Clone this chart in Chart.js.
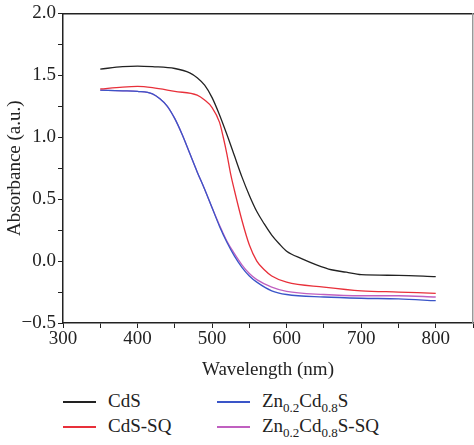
<!DOCTYPE html>
<html><head><meta charset="utf-8">
<script src="https://cdn.jsdelivr.net/npm/chart.js@4"></script>
<style>
body{margin:0;background:#fff;font-family:"Liberation Serif",serif;}
#w{position:relative;width:474px;height:445px;}
canvas{position:absolute;left:0;top:0;}
.lg{position:absolute;font-size:19px;color:#222;line-height:19px;}
.ln{position:absolute;height:1.5px;width:33px;}
</style></head><body>
<div id="w"><canvas id="c" width="474" height="385"></canvas>
<div class="ln" style="left:63px;top:401px;background:#222"></div><div class="lg" style="left:108px;top:391px">CdS</div>
<div class="ln" style="left:63px;top:426px;background:#e8303a"></div><div class="lg" style="left:108px;top:416px">CdS-SQ</div>
<div class="ln" style="left:217px;top:401px;background:#3a55c8"></div><div class="lg" style="left:262px;top:391px">Zn<sub style="font-size:13px">0.2</sub>Cd<sub style="font-size:13px">0.8</sub>S</div>
<div class="ln" style="left:217px;top:426px;background:#c060c0"></div><div class="lg" style="left:262px;top:416px">Zn<sub style="font-size:13px">0.2</sub>Cd<sub style="font-size:13px">0.8</sub>S-SQ</div>
</div>
<script>
const cdsX=[350,380,400,420,450,470,480,490,500,510,520,530,540,550,560,570,580,590,600,620,640,660,680,700,750,800];
const cdsY=[1.55,1.57,1.575,1.57,1.555,1.52,1.48,1.42,1.32,1.18,1.02,0.85,0.68,0.53,0.40,0.30,0.21,0.14,0.08,0.02,-0.03,-0.07,-0.09,-0.11,-0.115,-0.125];
const sqX=[350,380,400,420,450,480,490,500,510,515,520,525,530,540,550,560,570,580,600,650,700,750,800];
const sqY=[1.39,1.405,1.41,1.40,1.37,1.34,1.30,1.24,1.12,1.0,0.86,0.70,0.57,0.33,0.13,0.0,-0.07,-0.12,-0.17,-0.21,-0.24,-0.25,-0.26];
const znX=[350,380,400,420,430,440,450,460,470,480,490,500,510,520,530,540,550,560,580,600,650,700,750,800];
const znY=[1.38,1.375,1.37,1.35,1.31,1.25,1.15,1.02,0.87,0.72,0.58,0.43,0.28,0.15,0.04,-0.05,-0.12,-0.17,-0.24,-0.27,-0.29,-0.30,-0.305,-0.32];
const znsqY=[1.38,1.375,1.37,1.35,1.31,1.25,1.15,1.02,0.87,0.72,0.58,0.43,0.29,0.16,0.06,-0.03,-0.10,-0.15,-0.21,-0.245,-0.27,-0.28,-0.28,-0.29];
const pts=(xs,ys)=>xs.map((x,i)=>({x,y:ys[i]}));
const ds=(d,c)=>({data:d,borderColor:c,borderWidth:1.3,pointRadius:0,cubicInterpolationMode:'monotone',fill:false});
const F={family:"Liberation Serif",size:19};
new Chart(document.getElementById('c'),{type:'line',
data:{datasets:[ds(pts(cdsX,cdsY),'#222'),ds(pts(sqX,sqY),'#e8303a'),ds(pts(znX,znY),'#3a55c8'),ds(pts(znX,znsqY),'#c060c0')]},
options:{responsive:false,animation:false,layout:{padding:{top:13,right:1,left:0,bottom:0}},
plugins:{legend:{display:false},tooltip:{enabled:false}},
scales:{
x:{type:'linear',min:300,max:850,afterFit:a=>{a.height=62;},
 ticks:{stepSize:50,color:'#222',font:F,maxRotation:0,padding:0,callback:v=>v%100===0&&v<850?v:''},
 grid:{display:true,drawOnChartArea:false,tickLength:5,color:'#222'},border:{color:'#222',width:1.5},
 title:{display:true,text:'Wavelength (nm)',font:F,color:'#222',padding:{top:2}}},
y:{min:-0.5,max:2.0,afterFit:a=>{a.width=63;},
 ticks:{stepSize:0.25,color:'#222',font:F,padding:2,callback:v=>Math.abs(v*2-Math.round(v*2))<1e-6?(v<0?'\u22120.5':v.toFixed(1)):''},
 grid:{display:true,drawOnChartArea:false,tickLength:5,color:'#222'},border:{color:'#222',width:1.5},
 title:{display:true,text:'Absorbance (a.u.)',font:F,color:'#222',padding:{bottom:0}}},
x2:{type:'linear',position:'top',min:300,max:850,afterFit:a=>{a.height=0;},ticks:{display:false},grid:{display:false},border:{color:'#222',width:1.5}},
y2:{position:'right',min:-0.5,max:2,afterFit:a=>{a.width=0;},ticks:{display:false},grid:{display:false},border:{color:'#999',width:1.5}}
}}});
</script></body></html>
